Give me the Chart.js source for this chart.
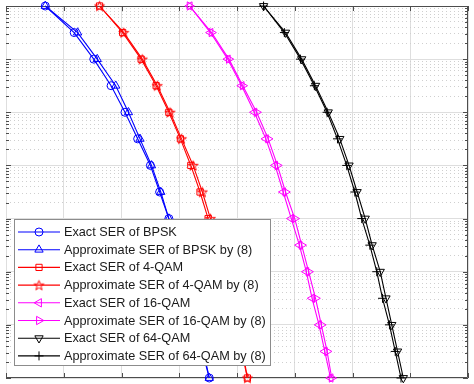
<!DOCTYPE html>
<html><head><meta charset="utf-8">
<script src="https://cdn.jsdelivr.net/npm/chart.js@4.4.1/dist/chart.umd.min.js"></script>
<style>html,body{margin:0;padding:0;background:#fff;overflow:hidden}#wrap{width:474px;height:384px;position:relative}</style>
</head><body><div id="wrap"><canvas id="c" width="474" height="384"></canvas></div>
<script>
// SER levels (y) at which each curve is sampled
const serLevels = [1, 3.162e-1, 1e-1, 3.162e-2, 1e-2, 3.162e-3, 1e-3, 3.162e-4, 1e-4, 3.162e-5, 1e-5, 3.162e-6, 1e-6, 3.162e-7, 1e-7];
// SNR (dB, x) of each curve at those levels
const snrBpskExact   = [3.4, 5.9, 7.6, 9.1, 10.3, 11.4, 12.5, 13.3, 14.1, 14.7, 15.3, 15.9, 16.5, 17.0, 17.6];
const snrBpskApprox  = [3.4, 6.2, 7.9, 9.5, 10.6, 11.6, 12.6, 13.4, 14.1, 14.8, 15.4, 16.0, 16.5, 17.1, 17.6];
const snrQam4Exact   = [8.1, 10.1, 11.7, 13.0, 14.1, 15.1, 16.0, 16.8, 17.5, 18.2, 18.8, 19.3, 19.8, 20.4, 20.9];
const snrQam4Approx  = [8.1, 10.2, 11.8, 13.1, 14.2, 15.2, 16.2, 17.0, 17.7, 18.3, 18.9, 19.5, 20.0, 20.5, 20.9];
const snrQam16Exact  = [15.9, 17.7, 19.2, 20.4, 21.5, 22.5, 23.3, 24.0, 24.7, 25.4, 26.0, 26.5, 27.1, 27.6, 28.1];
const snrQam16Approx = [15.9, 17.8, 19.3, 20.5, 21.7, 22.7, 23.5, 24.2, 25.0, 25.6, 26.2, 26.8, 27.3, 27.8, 28.2];
const snrQam64Exact  = [22.3, 24.2, 25.6, 26.8, 27.9, 28.9, 29.7, 30.4, 31.1, 31.7, 32.4, 32.9, 33.4, 33.9, 34.4];
const snrQam64Approx = [22.3, 24.1, 25.5, 26.7, 27.8, 28.7, 29.5, 30.2, 30.8, 31.5, 32.1, 32.6, 33.2, 33.7, 34.2];
const seriesLabels = [
  'Exact SER of BPSK', 'Approximate SER of BPSK by (8)',
  'Exact SER of 4-QAM', 'Approximate SER of 4-QAM by (8)',
  'Exact SER of 16-QAM', 'Approximate SER of 16-QAM by (8)',
  'Exact SER of 64-QAM', 'Approximate SER of 64-QAM by (8)'
];
const xTickValues = [0, 5, 10, 15, 20, 25, 30, 35, 40];
const yDecades = [1e-7, 1e-6, 1e-5, 1e-4, 1e-3, 1e-2, 1e-1, 1];
const yMinorMultipliers = [2, 3, 4, 5, 6, 7, 8, 9];

function pts(xs) { return xs.map((v, i) => ({x: v, y: serLevels[i]})); }

function makeStar(color) {
  const R = 5.2, r = 2.1, s = 13;
  const c = document.createElement('canvas'); c.width = s; c.height = s;
  const g = c.getContext('2d'); g.strokeStyle = color; g.lineWidth = 1; g.beginPath();
  for (let i = 0; i < 10; i++) {
    const ang = -Math.PI / 2 + i * Math.PI / 5, rad = (i % 2) ? r : R;
    const px = s / 2 + rad * Math.cos(ang), py = s / 2 + 0.5 + rad * Math.sin(ang);
    if (i) g.lineTo(px, py); else g.moveTo(px, py);
  }
  g.closePath(); g.stroke(); return c;
}

const BLUE = '#0000ff', RED = '#ff0000', MAG = '#ff00ff', BLK = '#000000';
function ds(label, xs, color, style, radius, rot) {
  return {
    label, data: pts(xs), borderColor: color, backgroundColor: 'rgba(0,0,0,0)',
    borderWidth: 1.1, pointStyle: style, pointRadius: radius, pointHoverRadius: radius,
    pointRotation: rot || 0, pointBorderColor: color, pointBackgroundColor: 'rgba(0,0,0,0)',
    pointBorderWidth: 1, tension: 0, clip: false, fill: false
  };
}

const datasets = [
  ds(seriesLabels[0], snrBpskExact, BLUE, 'circle', 4),
  ds(seriesLabels[1], snrBpskApprox, BLUE, 'triangle', 4.8, 0),
  ds(seriesLabels[2], snrQam4Exact, RED, 'rect', 4.4),
  ds(seriesLabels[3], snrQam4Approx, RED, makeStar(RED), 5),
  ds(seriesLabels[4], snrQam16Exact, MAG, 'triangle', 4.8, -90),
  ds(seriesLabels[5], snrQam16Approx, MAG, 'triangle', 4.8, 90),
  ds(seriesLabels[6], snrQam64Exact, BLK, 'triangle', 4.8, 180),
  ds(seriesLabels[7], snrQam64Approx, BLK, 'cross', 4.5)
];

const AXIS = '#4d4d4d';
const boxPlugin = {
  id: 'matlabBox',
  beforeDatasetsDraw(chart) {
    const {ctx, chartArea: a, scales: {x, y}} = chart;
    ctx.save();
    ctx.strokeStyle = AXIS; ctx.lineWidth = 1;
    ctx.beginPath();
    x.ticks.forEach(t => {
      const px = Math.round(x.getPixelForValue(t.value)) + 0.5;
      ctx.moveTo(px, a.bottom); ctx.lineTo(px, a.bottom - 5);
      ctx.moveTo(px, a.top); ctx.lineTo(px, a.top + 5);
    });
    y.ticks.forEach(t => {
      const py = Math.round(y.getPixelForValue(t.value)) + 0.5;
      const len = t.major ? 5 : 3;
      ctx.moveTo(a.left, py); ctx.lineTo(a.left + len, py);
      ctx.moveTo(a.right, py); ctx.lineTo(a.right - len, py);
    });
    ctx.stroke();
    ctx.beginPath();
    ctx.moveTo(a.left, a.top + 0.5); ctx.lineTo(a.right - 0.5, a.top + 0.5);
    ctx.lineTo(a.right - 0.5, a.bottom - 0.5); ctx.lineTo(a.left, a.bottom - 0.5);
    ctx.stroke();
    ctx.restore();
  }
};

function drawMarker(ctx, d, cx, cy) {
  const opts = {pointStyle: d.pointStyle, radius: d.pointRadius, rotation: d.pointRotation || 0, borderWidth: d.pointBorderWidth};
  ctx.strokeStyle = d.pointBorderColor; ctx.fillStyle = 'rgba(0,0,0,0)'; ctx.lineWidth = d.pointBorderWidth;
  Chart.helpers.drawPoint(ctx, opts, cx, cy);
}

const legendPlugin = {
  id: 'matlabLegend',
  afterDraw(chart) {
    const ctx = chart.ctx;
    const bx = 14.5, by = 219.5, bw = 256, bh = 146;
    ctx.save();
    ctx.fillStyle = '#ffffff'; ctx.fillRect(bx, by, bw, bh);
    ctx.strokeStyle = '#8c8c8c'; ctx.lineWidth = 1; ctx.strokeRect(bx, by, bw, bh);
    chart.data.datasets.forEach((d, i) => {
      const cy = 232 + i * 17.7;
      ctx.strokeStyle = d.borderColor; ctx.lineWidth = d.borderWidth;
      ctx.beginPath(); ctx.moveTo(18, cy); ctx.lineTo(60, cy); ctx.stroke();
      drawMarker(ctx, d, 39, cy);
      ctx.fillStyle = '#1a1a1a';
      ctx.font = '12.7px "Liberation Sans", Arial, sans-serif';
      ctx.textBaseline = 'middle'; ctx.textAlign = 'left';
      ctx.fillText(d.label, 64, cy + 0.5);
    });
    ctx.restore();
  }
};

new Chart(document.getElementById('c'), {
  type: 'line',
  data: {datasets},
  options: {
    responsive: false, animation: false, devicePixelRatio: 1,
    layout: {padding: {left: 0, right: 0, top: 5, bottom: 5}},
    plugins: {legend: {display: false}, tooltip: {enabled: false}},
    scales: {
      x: {
        type: 'linear', min: 0, max: 40,
        afterBuildTicks: s => { s.ticks = xTickValues.map(v => ({value: v})); },
        ticks: {display: false},
        grid: {color: '#dedede', lineWidth: 1, drawTicks: false},
        border: {display: false}
      },
      y: {
        type: 'logarithmic', min: 1e-7, max: 1,
        afterBuildTicks: s => {
          const t = [];
          yDecades.forEach(d => {
            t.push({value: d, major: true});
            if (d < 1) yMinorMultipliers.forEach(m => t.push({value: d * m, major: false}));
          });
          s.ticks = t;
        },
        ticks: {display: false},
        grid: {
          color: c => (c.tick && c.tick.major) ? '#dedede' : '#cfcfcf',
          lineWidth: 1, drawTicks: false
        },
        border: {display: false, dash: c => (c.tick && !c.tick.major) ? [1, 3] : []}
      }
    }
  },
  plugins: [boxPlugin, legendPlugin]
});
</script></body></html>
